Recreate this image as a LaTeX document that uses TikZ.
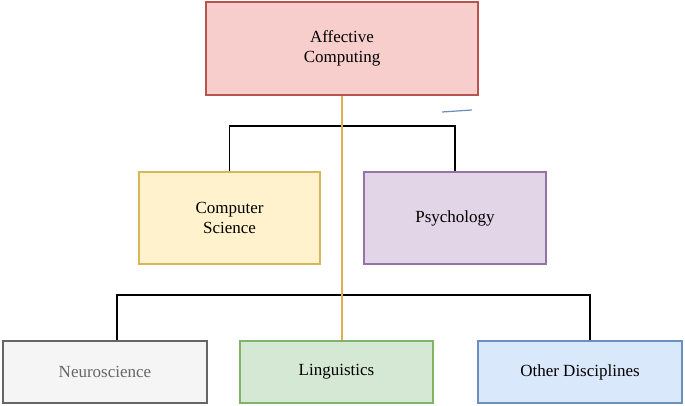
\documentclass[tikz,border=0pt]{standalone}
\usepackage{fontspec}
\setmainfont{Liberation Serif}
\definecolor{redF}{HTML}{F8CECC}\definecolor{redD}{HTML}{B85450}
\definecolor{yelF}{HTML}{FFF2CC}\definecolor{yelD}{HTML}{D6B656}
\definecolor{purF}{HTML}{E1D5E7}\definecolor{purD}{HTML}{9673A6}
\definecolor{gryF}{HTML}{F5F5F5}\definecolor{gryD}{HTML}{666666}
\definecolor{grnF}{HTML}{D5E8D4}\definecolor{grnD}{HTML}{82B366}
\definecolor{bluF}{HTML}{DAE8FC}\definecolor{bluD}{HTML}{6C8EBF}
\begin{document}
\begin{tikzpicture}[x=1pt,y=-1pt,
  box/.style={draw,line width=1.2pt,align=center,font=\fontsize{17}{20}\selectfont,inner sep=0pt},
  conn/.style={line width=1.3pt}]
\useasboundingbox (0,0) rectangle (685,406);
\node[box,fill=redF,draw=redD,minimum width=272pt,minimum height=93pt] (ac) at (342,48.5) {Affective\\Computing};
\node[box,fill=yelF,draw=yelD,minimum width=181pt,minimum height=92pt] (cs) at (229.5,218) {Computer\\Science};
\node[box,fill=purF,draw=purD,minimum width=182pt,minimum height=92pt] (ps) at (455,218) {Psychology};
\node[box,fill=gryF,draw=gryD,minimum width=204pt,minimum height=62pt,text=gryD] (ns) at (105,372) {Neuroscience};
\node[box,fill=grnF,draw=grnD,minimum width=193pt,minimum height=62pt] (li) at (336.5,372) {Linguistics};
\node[box,fill=bluF,draw=bluD,minimum width=204pt,minimum height=62pt] (od) at (580,372) {Other Disciplines};
\coordinate (j1) at (342,126);
\coordinate (j2) at (342,295);
\draw[conn] (cs.north) |- (j1) -| (ps.north);
\draw[conn] (ns.north -| 117,0) |- (j2) -| (od.north -| 590,0);
\draw[conn,draw=yelD!90!orange] (ac.south) -- (li.north -| ac.south);
\coordinate (b1) at (442,112); \coordinate (b2) at (472,110);
\draw[line width=1.2pt,color=bluD] (b1) -- (b2);
\end{tikzpicture}
\end{document}
